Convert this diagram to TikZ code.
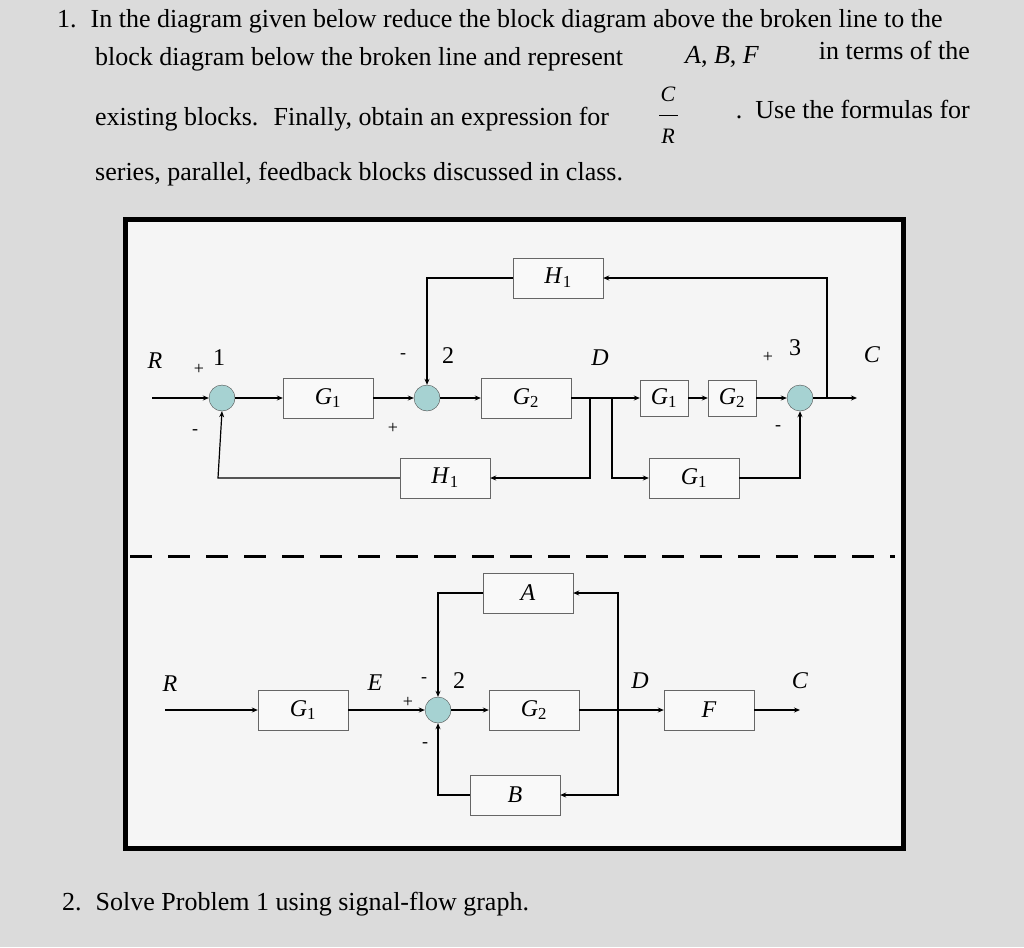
\documentclass[tikz,border=0pt]{standalone}
\usepackage{fontspec}
\setmainfont{Liberation Serif}
\usetikzlibrary{arrows.meta}
\newcommand{\gx}[1]{\textit{G}\textsubscript{\upshape #1}}
\newcommand{\hx}[1]{\textit{H}\textsubscript{\upshape #1}}
\begin{document}
\begin{tikzpicture}[x=1pt,y=-1pt,
 txt/.style={anchor=base west,inner sep=0pt,font=\fontsize{26}{30}\selectfont},
 lab/.style={inner sep=0pt,font=\fontsize{24}{28}\selectfont},
 sg/.style={inner sep=0pt,font=\fontsize{18}{20}\selectfont},
 blk/.style={draw=black!60,fill=white!95!gray,minimum width=90pt,minimum height=40pt,inner sep=0pt,font=\fontsize{24}{28}\selectfont},
 sblk/.style={blk,minimum width=48pt,minimum height=36pt},
 sumj/.style={circle,draw=black!70,fill=teal!35!white,minimum size=26pt,inner sep=0pt},
 ln/.style={line width=1.2pt},
 ar/.style={ln,-{Stealth[length=6pt,width=5pt]}}]
\fill[black!14] (0,0) rectangle (1024,947);
\useasboundingbox (0,0) rectangle (1024,947);
% text
\node[txt] (t1) at (57,28) {1.\hspace{14pt}In the diagram given below reduce the block diagram above the broken line to the};
\node[txt] (t2) at (95,66) {block diagram below the broken line and represent};
\node[txt] (t2m) at (685,64) {\textit{A}, \textit{B}, \textit{F}};
\node[txt,anchor=base east] (t2b) at (970,60) {in terms of the};
\node[txt] (t3) at (95,125) {existing blocks. \ Finally, obtain an expression for};
\node[lab,font=\fontsize{22}{26}\selectfont] (cC) at (668,94) {\textit{C}};
\draw[line width=0.8pt] (659,115) -- (678,115);
\node[lab,font=\fontsize{22}{26}\selectfont] (cR) at (668,136) {\textit{R}};
\node[txt,anchor=base east] (t3b) at (970,118) {.\ \ Use the formulas for};
\node[txt] (t4) at (95,180) {series, parallel, feedback blocks discussed in class.};
\node[txt] (t5) at (62,910) {2.\hspace{14pt}Solve Problem 1 using signal-flow graph.};
% frame
\fill[white!92!gray] (125,219) rectangle (903,848);
\draw[line width=5pt] (125,219) rectangle (903,848);
\draw[line width=3pt,dash pattern=on 22pt off 16pt] (130,556) -- (895,556);
% upper
\node[lab] (R1) at (155,361) {\textit{R}};
\coordinate (in1) at (152,398);
\node[sumj] (s1) at (222,398) {};
\node[sg] at (199,369) {+}; \node[lab] at (219,358) {1}; \node[sg] at (195,432) {-};
\node[blk] (g1) at (328,398) {\gx1};
\node[sumj] (s2) at (427,398) {};
\node[sg] at (403,356) {-}; \node[lab] at (448,356) {2}; \node[sg] at (393,428) {+};
\node[blk] (g2) at (526,398) {\gx2};
\node[lab] at (600,358) {\textit{D}};
\node[sblk] (g1b) at (664,398) {\gx1};
\node[sblk] (g2b) at (732,398) {\gx2};
\node[sumj] (s3) at (800,398) {};
\node[sg] at (768,357) {+}; \node[lab] at (795,348) {3}; \node[sg] at (778,428) {-};
\node[lab] at (872,355) {\textit{C}};
\coordinate (out1) at (857,398);
\node[blk] (h1t) at (558,278) {\hx1};
\node[blk] (h1b) at (445,478) {\hx1};
\node[blk] (g1c) at (694,478) {\gx1};
\draw[ar] (in1) -- (s1);
\draw[ar] (s1) -- (g1);
\draw[ar] (g1) -- (s2);
\draw[ar] (s2) -- (g2);
\draw[ar] (g2.east) -- (g1b.west);
\draw[ar] (g1b) -- (g2b);
\draw[ar] (g2b.east) -- (s3.west);
\draw[ar] (s3) -- (out1);
\draw[ar] (827,398) -- (827,278) -- (h1t.east);
\draw[ar] (h1t.west) -- (427,278) -- (s2.north);
\draw[ar] (590,398) -- (590,478) -- (h1b.east);
\draw[ar] (h1b.west) -- (218,478) -- (s1.south);
\draw[ar] (612,398) -- (612,478) -- (g1c.west);
\draw[ar] (g1c.east) -- (800,478) -- (s3.south);
% lower
\node[lab] (R2) at (170,684) {\textit{R}};
\coordinate (in2) at (165,710);
\node[blk] (g1l) at (303,710) {\gx1};
\node[lab] at (375,683) {\textit{E}};
\node[sumj] (s4) at (438,710) {};
\node[sg] at (408,702) {+}; \node[sg] at (424,680) {-}; \node[lab] at (459,681) {2}; \node[sg] at (425,745) {-};
\node[blk] (A) at (528,593) {\textit{A}};
\node[blk] (g2l) at (534,710) {\gx2};
\node[blk] (B) at (515,795) {\textit{B}};
\node[lab] at (640,681) {\textit{D}};
\node[blk] (F) at (709,710) {\textit{F}};
\node[lab] at (800,681) {\textit{C}};
\coordinate (out2) at (800,710);
\draw[ar] (in2) -- (g1l);
\draw[ar] (g1l.east) -- (s4.west);
\draw[ar] (s4) -- (g2l);
\draw[ar] (g2l) -- (F);
\draw[ar] (F) -- (out2);
\draw[ar] (618,710) -- (618,593) -- (A.east);
\draw[ar] (A.west) -- (438,593) -- (s4.north);
\draw[ar] (618,710) -- (618,795) -- (B.east);
\draw[ar] (B.west) -- (438,795) -- (s4.south);
\end{tikzpicture}
\end{document}
